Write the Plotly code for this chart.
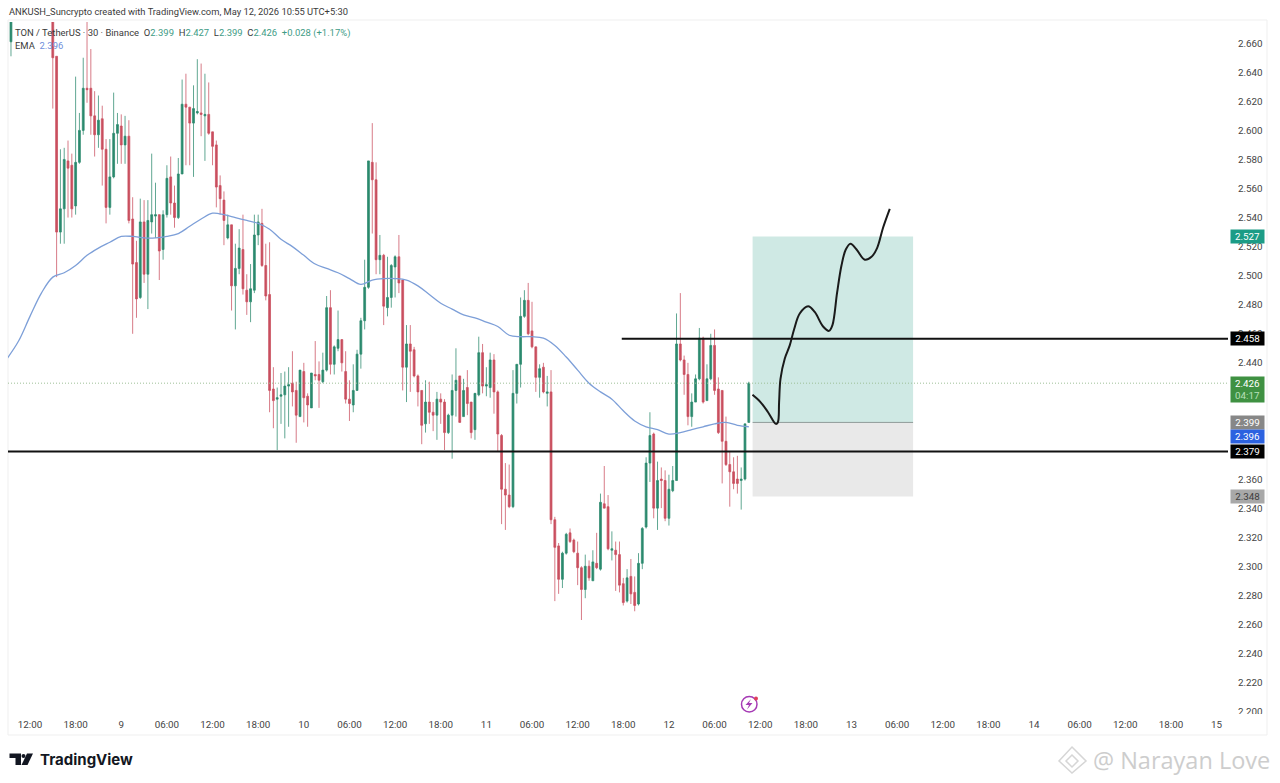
#!/usr/bin/env python3
# -*- coding: utf-8 -*-

import pandas as pd
import plotly.graph_objects as go

# TON / USDT 30 min candles
opens = [
    2.661,
    2.685, 2.651, 2.530, 2.546, 2.579, 2.576, 2.548, 2.578, 2.600, 2.629,
    2.629, 2.610, 2.597, 2.608, 2.587, 2.547, 2.568, 2.598, 2.603, 2.590,
    2.596, 2.539, 2.509, 2.485, 2.537, 2.501, 2.537, 2.541, 2.542, 2.518,
    2.542, 2.568, 2.550, 2.540, 2.570, 2.618, 2.616, 2.605, 2.612, 2.612,
    2.610, 2.611, 2.599, 2.590, 2.562, 2.552, 2.526, 2.535, 2.493, 2.505,
    2.518, 2.490, 2.482, 2.490, 2.528, 2.536, 2.507, 2.487, 2.422, 2.415,
    2.417, 2.418, 2.424, 2.426, 2.421, 2.403, 2.434, 2.417, 2.409, 2.432,
    2.432, 2.427, 2.435, 2.478, 2.439, 2.450, 2.456, 2.434, 2.415, 2.411,
    2.421, 2.446, 2.469, 2.492, 2.578, 2.566, 2.511, 2.514, 2.478, 2.485,
    2.506, 2.513, 2.497, 2.437, 2.453, 2.449, 2.431, 2.421, 2.398, 2.413,
    2.406, 2.404, 2.415, 2.413, 2.392, 2.404, 2.421, 2.431, 2.403, 2.423,
    2.413, 2.394, 2.418, 2.447, 2.424, 2.423, 2.442, 2.420, 2.390, 2.353,
    2.349, 2.341, 2.419, 2.439, 2.472, 2.483, 2.462, 2.451, 2.430, 2.437,
    2.419, 2.420, 2.332, 2.314, 2.291, 2.309, 2.323, 2.318, 2.309, 2.299,
    2.284, 2.300, 2.290, 2.302, 2.298, 2.343, 2.341, 2.311, 2.311, 2.308,
    2.288, 2.276, 2.293, 2.282, 2.274, 2.302, 2.327, 2.371, 2.391, 2.340,
    2.360, 2.359, 2.333, 2.352, 2.359, 2.453, 2.442, 2.432, 2.403, 2.413,
    2.429, 2.457, 2.414, 2.429, 2.452, 2.422, 2.421, 2.386, 2.370, 2.365,
    2.360, 2.359, 2.360, 2.399,
]
highs = [
    2.676,
    2.690, 2.651, 2.587, 2.588, 2.593, 2.584, 2.637, 2.612, 2.650, 2.680,
    2.656, 2.627, 2.624, 2.617, 2.594, 2.594, 2.626, 2.612, 2.611, 2.610,
    2.607, 2.554, 2.524, 2.553, 2.552, 2.552, 2.584, 2.564, 2.542, 2.545,
    2.576, 2.582, 2.562, 2.581, 2.635, 2.639, 2.616, 2.631, 2.649, 2.646,
    2.639, 2.633, 2.599, 2.593, 2.569, 2.558, 2.542, 2.535, 2.522, 2.532,
    2.542, 2.501, 2.508, 2.542, 2.542, 2.546, 2.522, 2.523, 2.437, 2.423,
    2.433, 2.434, 2.437, 2.448, 2.427, 2.435, 2.440, 2.419, 2.433, 2.455,
    2.441, 2.447, 2.486, 2.490, 2.452, 2.476, 2.456, 2.448, 2.428, 2.439,
    2.449, 2.471, 2.511, 2.579, 2.605, 2.578, 2.528, 2.515, 2.513, 2.508,
    2.514, 2.528, 2.497, 2.466, 2.466, 2.451, 2.432, 2.421, 2.428, 2.427,
    2.413, 2.420, 2.419, 2.415, 2.405, 2.432, 2.450, 2.431, 2.429, 2.435,
    2.413, 2.419, 2.458, 2.453, 2.437, 2.447, 2.446, 2.421, 2.391, 2.371,
    2.370, 2.435, 2.439, 2.485, 2.490, 2.495, 2.482, 2.451, 2.439, 2.440,
    2.431, 2.435, 2.334, 2.316, 2.310, 2.323, 2.326, 2.319, 2.317, 2.300,
    2.308, 2.304, 2.311, 2.323, 2.350, 2.369, 2.349, 2.324, 2.317, 2.317,
    2.292, 2.298, 2.305, 2.293, 2.309, 2.327, 2.375, 2.406, 2.392, 2.372,
    2.368, 2.366, 2.363, 2.369, 2.474, 2.488, 2.445, 2.440, 2.419, 2.432,
    2.464, 2.458, 2.439, 2.460, 2.463, 2.430, 2.421, 2.403, 2.379, 2.375,
    2.376, 2.368, 2.398, 2.427,
]
lows = [
    2.651,
    2.615, 2.499, 2.522, 2.522, 2.540, 2.540, 2.542, 2.577, 2.597, 2.619,
    2.597, 2.582, 2.588, 2.562, 2.536, 2.542, 2.567, 2.577, 2.577, 2.577,
    2.536, 2.460, 2.471, 2.484, 2.495, 2.477, 2.529, 2.526, 2.497, 2.511,
    2.540, 2.542, 2.533, 2.539, 2.570, 2.576, 2.576, 2.568, 2.611, 2.596,
    2.579, 2.597, 2.576, 2.547, 2.542, 2.521, 2.525, 2.476, 2.463, 2.501,
    2.487, 2.473, 2.468, 2.488, 2.521, 2.506, 2.483, 2.406, 2.395, 2.380,
    2.398, 2.388, 2.396, 2.410, 2.385, 2.403, 2.399, 2.396, 2.409, 2.428,
    2.409, 2.426, 2.434, 2.432, 2.432, 2.448, 2.434, 2.412, 2.400, 2.406,
    2.421, 2.436, 2.463, 2.491, 2.529, 2.501, 2.501, 2.466, 2.472, 2.478,
    2.485, 2.488, 2.421, 2.413, 2.420, 2.430, 2.410, 2.384, 2.392, 2.398,
    2.393, 2.387, 2.398, 2.380, 2.391, 2.374, 2.403, 2.399, 2.403, 2.404,
    2.388, 2.387, 2.417, 2.419, 2.417, 2.416, 2.405, 2.379, 2.329, 2.325,
    2.340, 2.340, 2.412, 2.423, 2.471, 2.459, 2.450, 2.420, 2.416, 2.419,
    2.410, 2.329, 2.276, 2.281, 2.285, 2.308, 2.316, 2.309, 2.287, 2.263,
    2.278, 2.290, 2.290, 2.298, 2.297, 2.340, 2.311, 2.304, 2.283, 2.282,
    2.273, 2.275, 2.274, 2.269, 2.273, 2.298, 2.326, 2.358, 2.333, 2.325,
    2.340, 2.331, 2.328, 2.351, 2.359, 2.441, 2.418, 2.397, 2.396, 2.413,
    2.428, 2.412, 2.414, 2.428, 2.418, 2.391, 2.357, 2.369, 2.341, 2.353,
    2.350, 2.339, 2.359, 2.399,
]
closes = [
    2.676,
    2.650, 2.530, 2.546, 2.580, 2.574, 2.546, 2.578, 2.600, 2.629, 2.628,
    2.610, 2.597, 2.607, 2.587, 2.547, 2.568, 2.598, 2.604, 2.590, 2.596,
    2.538, 2.508, 2.484, 2.537, 2.501, 2.538, 2.542, 2.542, 2.517, 2.542,
    2.567, 2.550, 2.540, 2.570, 2.618, 2.616, 2.605, 2.615, 2.613, 2.611,
    2.611, 2.598, 2.589, 2.561, 2.553, 2.538, 2.535, 2.493, 2.505, 2.519,
    2.491, 2.482, 2.491, 2.528, 2.537, 2.507, 2.486, 2.421, 2.414, 2.416,
    2.418, 2.424, 2.425, 2.420, 2.404, 2.435, 2.416, 2.411, 2.433, 2.431,
    2.428, 2.435, 2.478, 2.439, 2.451, 2.456, 2.440, 2.415, 2.412, 2.421,
    2.446, 2.469, 2.492, 2.579, 2.566, 2.511, 2.514, 2.479, 2.485, 2.507,
    2.513, 2.495, 2.437, 2.453, 2.448, 2.431, 2.420, 2.397, 2.413, 2.406,
    2.404, 2.415, 2.413, 2.392, 2.404, 2.421, 2.428, 2.399, 2.421, 2.412,
    2.392, 2.419, 2.447, 2.424, 2.425, 2.442, 2.420, 2.391, 2.353, 2.349,
    2.341, 2.419, 2.439, 2.472, 2.483, 2.460, 2.451, 2.430, 2.436, 2.420,
    2.420, 2.332, 2.313, 2.291, 2.309, 2.322, 2.317, 2.310, 2.299, 2.284,
    2.300, 2.292, 2.303, 2.299, 2.344, 2.340, 2.312, 2.312, 2.308, 2.287,
    2.275, 2.292, 2.281, 2.273, 2.302, 2.326, 2.371, 2.390, 2.340, 2.359,
    2.359, 2.333, 2.353, 2.359, 2.453, 2.442, 2.432, 2.403, 2.413, 2.429,
    2.457, 2.413, 2.429, 2.452, 2.421, 2.392, 2.386, 2.370, 2.365, 2.357,
    2.357, 2.360, 2.398, 2.426,
]

# EMA, one reading every 90 min
ema_values = [
    2.443, 2.455, 2.472, 2.488, 2.499, 2.502, 2.507, 2.514, 2.519, 2.523,
    2.527, 2.527, 2.526, 2.526, 2.527, 2.529, 2.534, 2.539, 2.543, 2.542,
    2.540, 2.538, 2.536, 2.532, 2.525, 2.520, 2.514, 2.508, 2.505, 2.502,
    2.498, 2.494, 2.497, 2.498, 2.498, 2.497, 2.493, 2.487, 2.481, 2.477,
    2.473, 2.471, 2.468, 2.465, 2.459, 2.458, 2.458, 2.457, 2.452, 2.444,
    2.435, 2.426, 2.420, 2.415, 2.407, 2.400, 2.396, 2.394, 2.391, 2.392,
    2.394, 2.396, 2.398, 2.399, 2.397, 2.396,
]

# hand drawn projection: minutes after the last bar, price
sketch_minutes = [
    29, 92, 152, 213, 229, 239, 250, 284, 323, 357, 402, 468, 520,
    586, 633, 660, 696, 731, 765, 802, 850, 915, 968, 1012, 1059, 1112,
]
sketch_prices = [
    2.418, 2.413, 2.406, 2.398, 2.399, 2.413, 2.429, 2.443, 2.452, 2.463,
    2.474, 2.479, 2.475, 2.465, 2.462, 2.466, 2.488, 2.507, 2.518, 2.522,
    2.518, 2.511, 2.513, 2.519, 2.533, 2.546,
]

# drawn levels
last_price = 2.426
resistance = 2.4565
support = 2.379
entry = 2.399
target = 2.527
stop = 2.348

x_labels = [
    '12:00', '18:00', '9', '06:00', '12:00', '18:00', '10', '06:00', '12:00',
    '18:00', '11', '06:00', '12:00', '18:00', '12', '06:00', '12:00', '18:00',
    '13', '06:00', '12:00', '18:00', '14', '06:00', '12:00', '18:00', '15',
]
# 2.420, 2.400 and 2.380 sit fully behind the price tags
y_ticks = [
    2.66, 2.64, 2.62, 2.60, 2.58, 2.56, 2.54, 2.52, 2.50, 2.48, 2.46, 2.44,
    2.36, 2.34, 2.32, 2.30, 2.28, 2.26, 2.24, 2.22, 2.20,
]

FONT = 'Roboto'
GREEN = '#2b8a6e'
RED = '#c94f5f'

# plot area in page pixels
PL, PR, PT, PB = 8, 1228, 22, 714


def px(x):
    return (x - PL) / (PR - PL)


def py(y):
    return (PB - y) / (PB - PT)


def paper_path(points):
    cmds = [f'{"M" if i == 0 else "L"}{px(a):.5f},{py(b):.5f}' for i, (a, b) in enumerate(points)]
    return ' '.join(cmds) + ' Z'


bar_times = [pd.Timestamp('2026-05-08 09:30')] + list(
    pd.date_range('2026-05-08 15:00', periods=len(opens) - 1, freq='30min')
)
last_bar = bar_times[-1]
ema_times = pd.date_range('2026-05-08 09:00', periods=len(ema_values), freq='90min')
sketch_times = [last_bar + pd.Timedelta(minutes=m) for m in sketch_minutes]
tick_times = pd.date_range('2026-05-08 12:00', periods=len(x_labels), freq='6h')

x_start = pd.Timestamp('2026-05-08 09:06:36')
x_end = pd.Timestamp('2026-05-15 01:30')
box_left = pd.Timestamp('2026-05-12 11:00')
box_right = pd.Timestamp('2026-05-13 08:06')
res_left = pd.Timestamp('2026-05-11 17:48')

fig = go.Figure()

fig.add_trace(
    go.Candlestick(
        x=bar_times,
        open=opens,
        high=highs,
        low=lows,
        close=closes,
        increasing=dict(line=dict(color='rgba(43,138,110,0.75)', width=1), fillcolor=GREEN),
        decreasing=dict(line=dict(color='rgba(201,79,95,0.75)', width=1), fillcolor=RED),
        whiskerwidth=0,
        hoverinfo='skip',
    )
)

fig.add_trace(
    go.Scatter(
        x=ema_times,
        y=ema_values,
        mode='lines',
        line=dict(color='#7d9fd8', width=1.3, shape='spline'),
        hoverinfo='skip',
    )
)

fig.add_trace(
    go.Scatter(
        x=[x_start, x_end],
        y=[last_price, last_price],
        mode='lines',
        line=dict(color='#9dbf96', width=1, dash='1px,2px'),
        hoverinfo='skip',
    )
)

for left, level in [(x_start, support), (res_left, resistance)]:
    fig.add_trace(
        go.Scatter(
            x=[left, x_end],
            y=[level, level],
            mode='lines',
            line=dict(color='#111111', width=2),
            hoverinfo='skip',
        )
    )

fig.add_trace(
    go.Scatter(
        x=[box_left, box_right],
        y=[entry, entry],
        mode='lines',
        line=dict(color='#8f9a98', width=1),
        hoverinfo='skip',
    )
)

fig.add_trace(
    go.Scatter(
        x=sketch_times,
        y=sketch_prices,
        mode='lines',
        line=dict(color='#1a1a1a', width=2, shape='spline'),
        hoverinfo='skip',
    )
)

shapes = [
    # long position boxes
    dict(type='rect', xref='x', yref='y', x0=box_left, x1=box_right, y0=entry, y1=target,
         fillcolor='#cfe9e4', line_width=0, layer='below'),
    dict(type='rect', xref='x', yref='y', x0=box_left, x1=box_right, y0=stop, y1=entry,
         fillcolor='#e9e9e9', line_width=0, layer='below'),
    # chart frame
    dict(type='rect', xref='paper', yref='paper', x0=0, x1=px(1267), y0=py(735), y1=py(20),
         line=dict(color='#efefef', width=1), layer='below'),
    # time scale hides the lower half of the 2.200 label
    dict(type='rect', xref='paper', yref='paper', x0=px(1232), x1=px(1265), y0=py(722), y1=py(714),
         fillcolor='white', line_width=0, layer='above'),
    # purple bolt mark
    dict(type='circle', xref='paper', yref='paper', x0=px(741.5), x1=px(757), y0=py(712), y1=py(696.5),
         line=dict(color='#a63ab5', width=1.5), fillcolor='white', layer='above'),
    dict(type='path', xref='paper', yref='paper',
         path=paper_path([(751, 699), (745.5, 705), (749, 705), (747, 709.5), (752.5, 703), (749, 703)]),
         fillcolor='#a63ab5', line_width=0, layer='above'),
    dict(type='circle', xref='paper', yref='paper', x0=px(754), x1=px(758), y0=py(700.5), y1=py(696.5),
         fillcolor='#e0405a', line_width=0, layer='above'),
    # TradingView logo
    dict(type='path', xref='paper', yref='paper',
         path=paper_path([(9.5, 753.5), (21, 753.5), (21, 765), (15.5, 765), (15.5, 758), (9.5, 758)]),
         fillcolor='#131722', line_width=0, layer='above'),
    dict(type='circle', xref='paper', yref='paper', x0=px(21.5), x1=px(25.5), y0=py(758), y1=py(754),
         fillcolor='#131722', line_width=0, layer='above'),
    dict(type='path', xref='paper', yref='paper',
         path=paper_path([(27, 753.5), (33, 753.5), (27.5, 765), (21.5, 765)]),
         fillcolor='#131722', line_width=0, layer='above'),
    # watermark diamond
    dict(type='path', xref='paper', yref='paper',
         path=paper_path([(1072, 747), (1086, 761), (1072, 773), (1059, 761)]),
         line=dict(color='#d6d6d6', width=1.5), layer='above'),
    dict(type='path', xref='paper', yref='paper',
         path=paper_path([(1072, 755), (1078, 761), (1072, 767), (1066, 761)]),
         line=dict(color='#d6d6d6', width=1.5), layer='above'),
]

header_value = '#3f9c86'
annotations = [
    dict(text='ANKUSH_Suncrypto created with TradingView.com, May 12, 2026 10:55 UTC+5:30',
         x=px(7), y=py(11), font=dict(size=9.35, color='#3a3a3a')),
    dict(text=(
        'TON / TetherUS · 30 · Binance  '
        f'O<span style="color:{header_value}">2.399</span>  '
        f'H<span style="color:{header_value}">2.427</span>  '
        f'L<span style="color:{header_value}">2.399</span>  '
        f'C<span style="color:{header_value}">2.426</span>  '
        f'<span style="color:{header_value}">+0.028 (+1.17%)</span>'),
         x=px(13), y=py(32.5), font=dict(size=9.45, color='#3a3a3a')),
    dict(text='EMA  <span style="color:#6f8fdc">2.396</span>',
         x=px(13), y=py(46), font=dict(size=9.45, color='#3a3a3a')),
    dict(text='<b>TradingView</b>', x=px(38), y=py(759.5),
         font=dict(size=15, color='#131722', family='Inter')),
    dict(text='@ Narayan Love', x=px(1091), y=py(760),
         font=dict(size=23.5, color='#cdcdcd', family='Open Sans')),
]
for item in annotations:
    item.update(xref='paper', yref='paper', xanchor='left', yanchor='middle',
                showarrow=False, align='left')

# price tags on the right scale: text, price, fill, text colour, y shift
tags = [
    ('2.527', target, '#1c9c86', 'white', 0),
    ('2.458', resistance, '#000000', 'white', 0),
    ('2.399', entry, '#878787', 'white', 0),
    ('2.396', entry, '#2c62e0', 'white', -14),
    ('2.379', support, '#000000', 'white', 0),
    ('2.348', stop, '#a8a8a8', '#3c3c3c', 0),
]
for text, level, fill, color, shift in tags:
    annotations.append(
        dict(text=text, xref='paper', yref='y', x=px(1247.5), y=level, yshift=shift,
             xanchor='center', yanchor='middle', showarrow=False, width=33, height=13,
             borderpad=0, bgcolor=fill, font=dict(size=9.8, color=color))
    )
annotations.append(
    dict(text='2.426<br><span style="color:#b9e0ba">04:17</span>', xref='paper', yref='y',
         x=px(1247.5), y=last_price, yshift=-6, xanchor='center', yanchor='middle',
         showarrow=False, width=33, height=25, borderpad=0, bgcolor='#3f9142',
         font=dict(size=9.8, color='white'))
)

fig.update_layout(
    width=1280,
    height=783,
    margin=dict(l=PL, r=1280 - PR, t=PT, b=783 - PB, pad=0),
    paper_bgcolor='white',
    plot_bgcolor='white',
    showlegend=False,
    font=dict(family=FONT, size=10, color='#444444'),
    shapes=shapes,
    annotations=annotations,
    xaxis=dict(
        range=[x_start, x_end],
        tickmode='array',
        tickvals=tick_times,
        ticktext=x_labels,
        tickangle=0,
        showgrid=False,
        zeroline=False,
        showline=False,
        ticks='outside',
        ticklen=1,
        tickcolor='rgba(0,0,0,0)',
        tickfont=dict(size=9.8, color='#444444'),
        rangeslider=dict(visible=False),
    ),
    yaxis=dict(
        side='right',
        range=[2.1983, 2.6746],
        tickmode='array',
        tickvals=y_ticks,
        tickformat='.3f',
        showgrid=False,
        zeroline=False,
        showline=False,
        ticks='outside',
        ticklen=7,
        tickcolor='rgba(0,0,0,0)',
        tickfont=dict(size=9.8, color='#444444'),
    ),
)

fig.write_html(
    'out.html',
    config={'displayModeBar': False},
    post_script="document.body.style.margin='0';",
)
